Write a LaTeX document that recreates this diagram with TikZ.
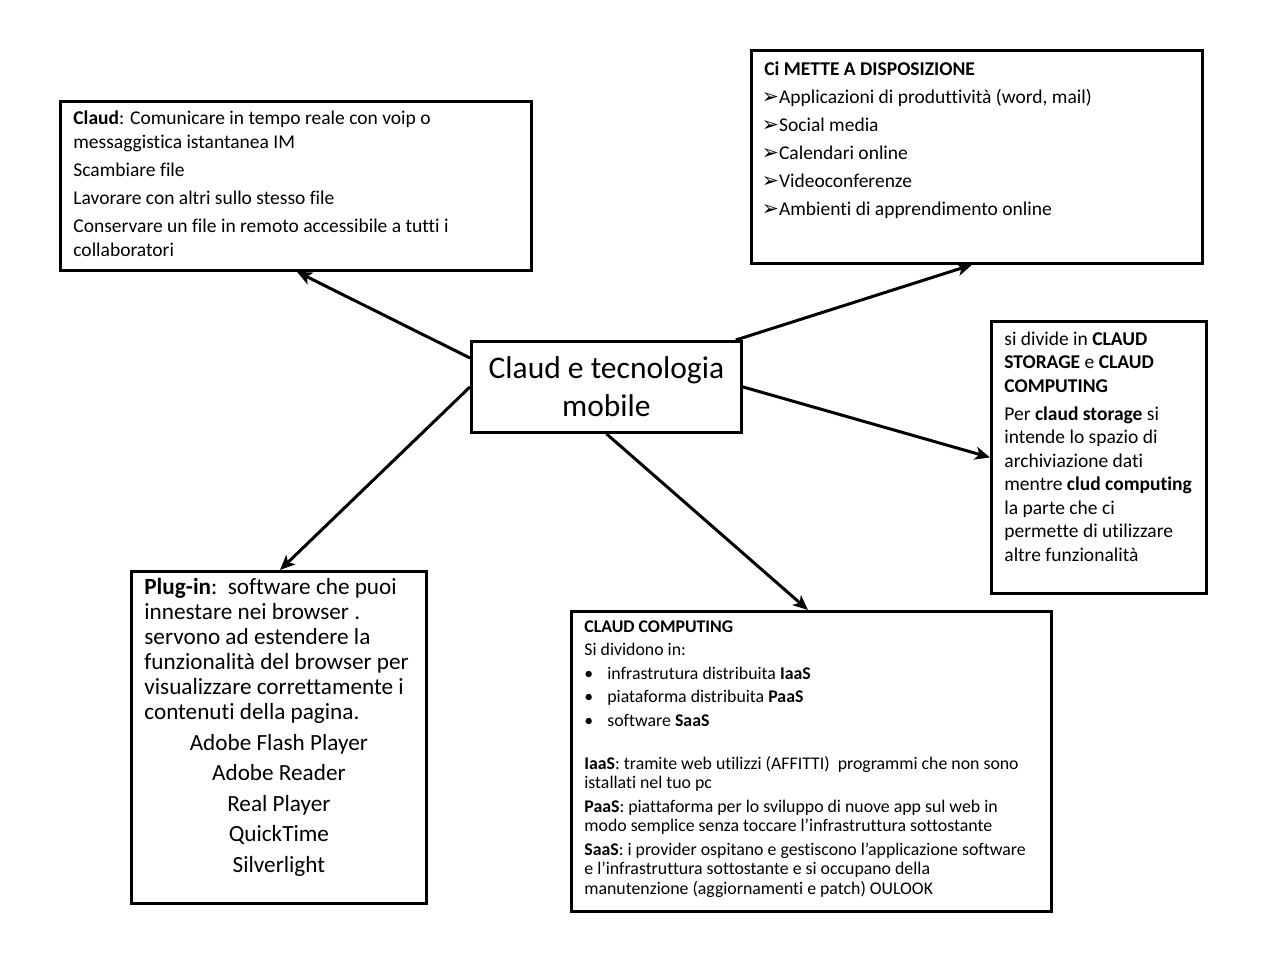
\documentclass[tikz,border=0pt]{standalone}
\usepackage{fontspec}
\setmainfont{Carlito}[Ligatures=NoCommon]
\newfontfamily\symfont{DejaVu Sans}
\usetikzlibrary{arrows.meta}
\pgfdeclarelayer{edgelayer}
\pgfdeclarelayer{nodelayer}
\pgfsetlayers{edgelayer,nodelayer,main}
\tikzstyle{box}=[draw,line width=2.8pt,anchor=north west,inner xsep=13pt,inner ysep=0pt,fill=white]
\tikzstyle{hub}=[draw,line width=2.8pt,anchor=north west,minimum width=270pt,minimum height=91pt,align=center,fill=white,font=\fontsize{31.5}{38}\selectfont]
\tikzstyle{link}=[line width=3pt,-{Stealth[length=15pt,width=13pt,inset=4pt]}]
\newcommand{\pick}{\hspace*{-2.5pt}{\symfont\bfseries\fontsize{20.5}{20}\selectfont ➢}}
\newcommand{\dotitem}{\makebox[23pt][l]{•}}

\begin{document}
\begin{tikzpicture}[x=1pt,y=-1pt]
	\useasboundingbox (0,0) rectangle (1280,960);
	\begin{pgfonlayer}{nodelayer}
		\node [style=hub] (0) at (470, 340) {Claud e tecnologia\\mobile};
		\node [style=box] (1) at (59, 100) {\parbox[c][169pt][t]{445pt}{\fontsize{19.5}{24}\selectfont\raggedright\setlength{\parskip}{4pt}\vspace*{2.5pt}%
			\strut\textbf{Claud}: Comunicare in tempo reale con voip o\\ messaggistica istantanea IM\par
			Scambiare file\par
			Lavorare con altri sullo stesso file\par
			Conservare un file in remoto accessibile a tutti i\\ collaboratori}};
		\node [style=box] (2) at (750, 49) {\parbox[c][213pt][t]{425pt}{\fontsize{19.5}{28}\selectfont\raggedright\setlength{\parskip}{0pt}\vspace*{5.5pt}%
			\strut\textbf{Ci METTE A DISPOSIZIONE}\par
			\pick Applicazioni di produttività (word, mail)\par
			\pick Social media\par
			\pick Calendari online\par
			\pick Videoconferenze\par
			\pick Ambienti di apprendimento online}};
		\node [style=box] (3) at (990, 320) {\parbox[c][272pt][t]{189pt}{\fontsize{19.5}{23.5}\selectfont\raggedright\setlength{\parskip}{4.5pt}\vspace*{3pt}%
			\strut si divide in \textbf{CLAUD}\\ \textbf{STORAGE} e \textbf{CLAUD}\\ \textbf{COMPUTING}\par
			Per \textbf{claud storage} si\\ intende lo spazio di\\ archiviazione dati\\ mentre \textbf{clud computing}\\ la parte che ci\\ permette di utilizzare\\ altre funzionalità}};
		\node [style=box] (4) at (130, 570) {\parbox[c][332pt][t]{269pt}{\fontsize{23.2}{25}\selectfont\raggedright\setlength{\parskip}{0pt}\vspace*{6pt}%
			\strut\textbf{Plug-in}:\ \ software che puoi\\ innestare nei browser .\\ servono ad estendere la\\ funzionalità del browser per\\ visualizzare correttamente i\\ contenuti della pagina.\par
			{\centering\fontsize{23.2}{30.5}\selectfont Adobe Flash Player\\ Adobe Reader\\ Real Player\\ QuickTime\\ Silverlight\par}}};
		\node [style=box] (5) at (570, 610) {\parbox[c][300pt][t]{454pt}{\fontsize{17.8}{19.5}\selectfont\raggedright\setlength{\parskip}{4pt}\vspace*{3pt}%
			\strut\textbf{CLAUD COMPUTING}\par
			Si dividono in:\par
			\dotitem infrastrutura distribuita \textbf{IaaS}\par
			\dotitem piataforma distribuita \textbf{PaaS}\par
			\dotitem software \textbf{SaaS}\par
			\vspace{19.5pt}
			\textbf{IaaS}: tramite web utilizzi (AFFITTI)\ \ programmi che non sono\\ istallati nel tuo pc\par
			\textbf{PaaS}: piattaforma per lo sviluppo di nuove app sul web in\\ modo semplice senza toccare l’infrastruttura sottostante\par
			\textbf{SaaS}: i provider ospitano e gestiscono l’applicazione software\\ e l’infrastruttura sottostante e si occupano della\\ manutenzione (aggiornamenti e patch) OULOOK}};
	\end{pgfonlayer}
	\begin{pgfonlayer}{edgelayer}
		\draw [style=link] ([yshift=-18pt]0.north west) to ([xshift=238pt]1.south west);
		\draw [style=link] ([xshift=-7pt]0.north east) to ([xshift=222pt]2.south west);
		\draw [style=link] (0.east) to (3.west);
		\draw [style=link] (0.south) to ([xshift=238pt]5.north west);
		\draw [style=link] (0.west) to ([xshift=150pt]4.north west);
	\end{pgfonlayer}
\end{tikzpicture}
\end{document}
